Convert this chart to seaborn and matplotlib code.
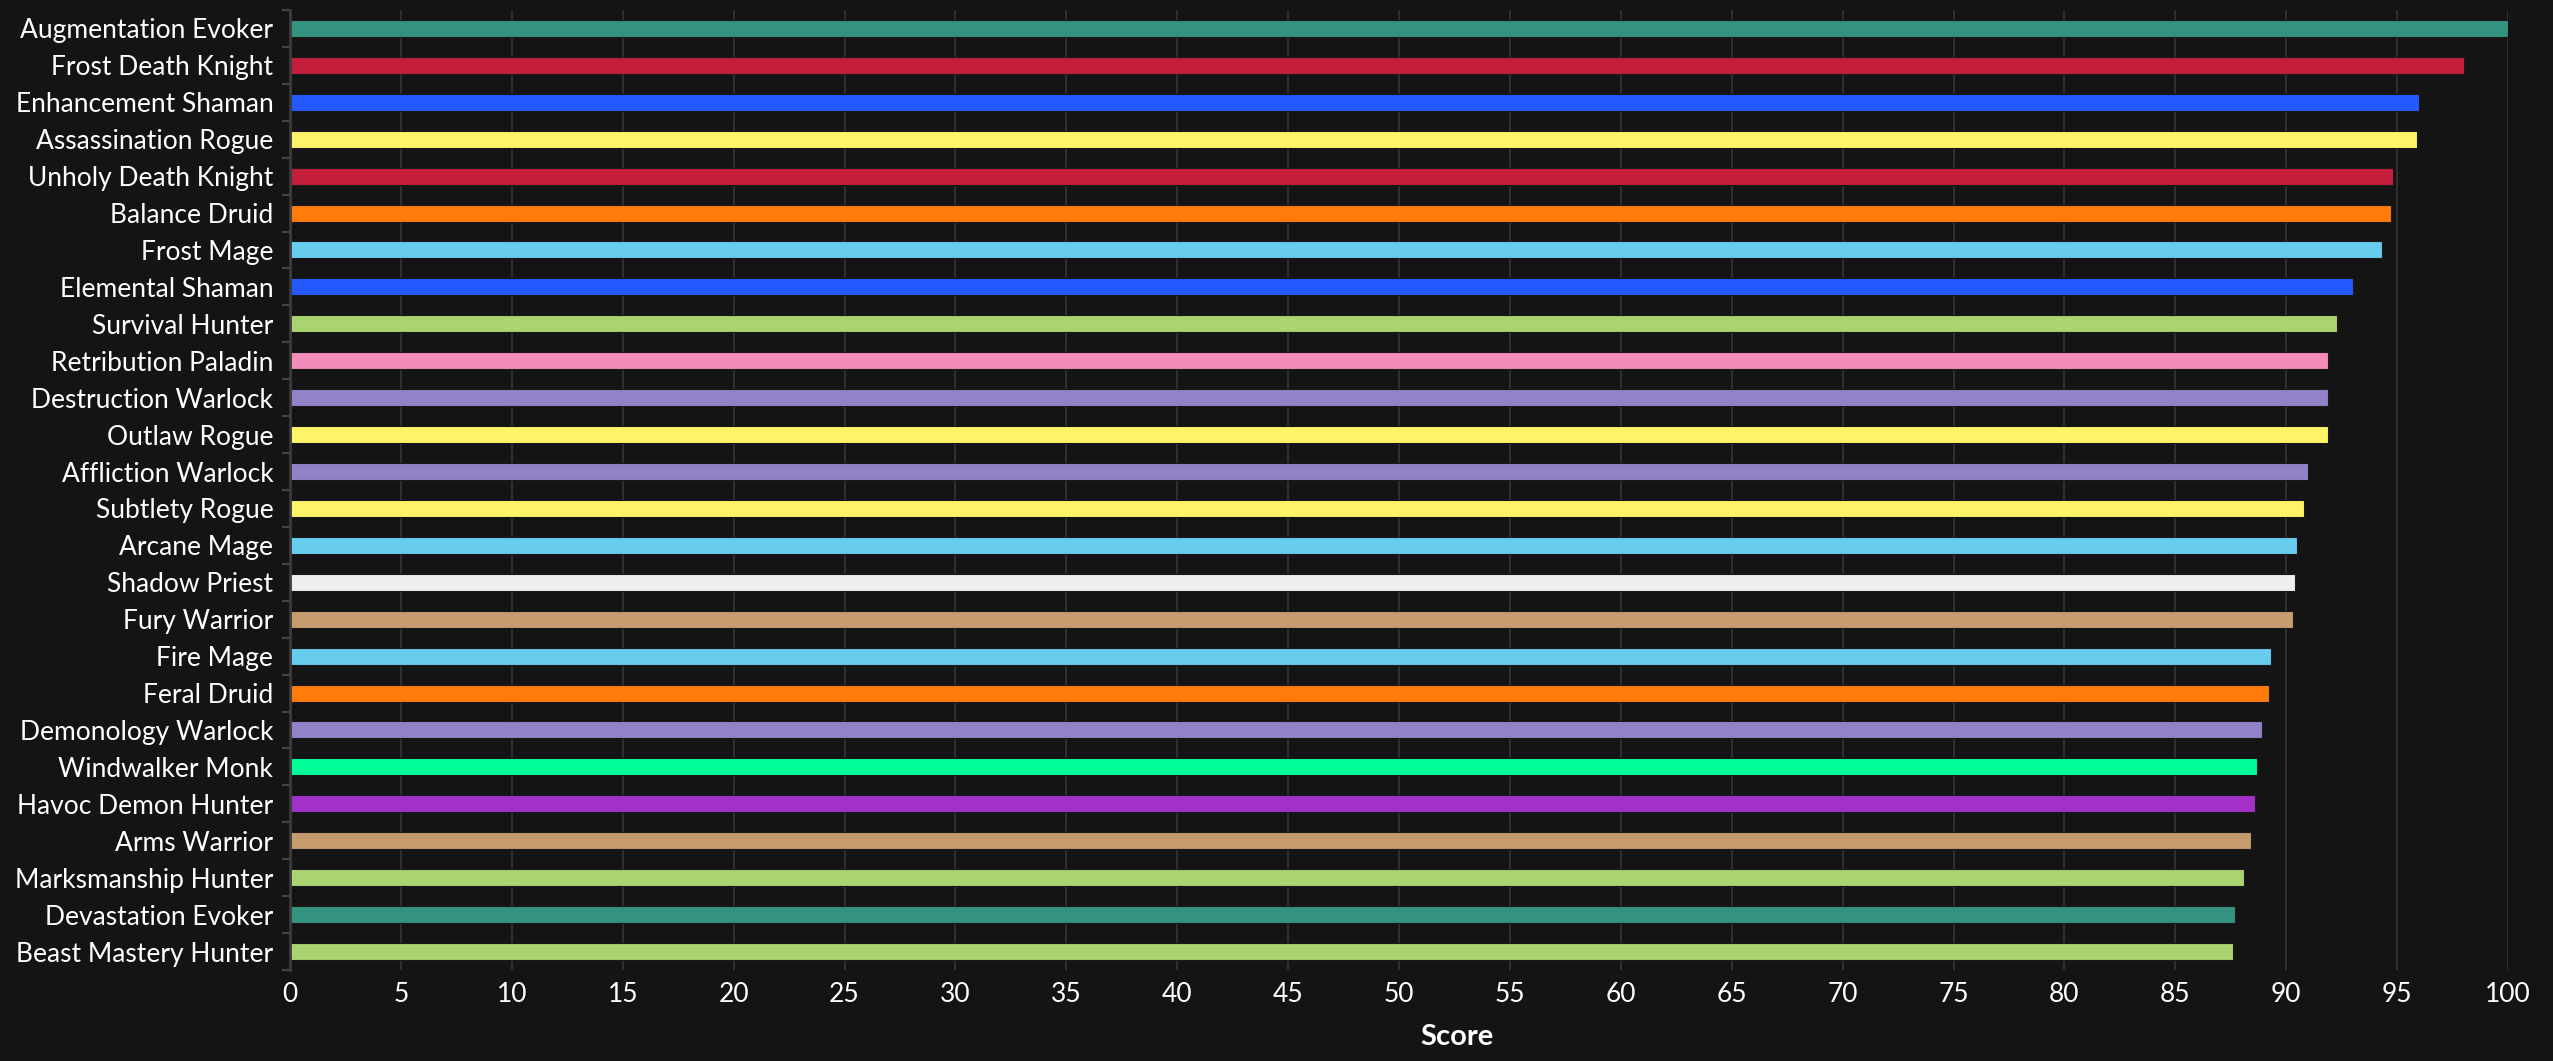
import matplotlib
matplotlib.use("Agg")
import matplotlib.pyplot as plt
import matplotlib.ticker as mticker
import seaborn as sns
import numpy as np
import pandas as pd

# Chart values
specs = [
    "Augmentation Evoker", "Frost Death Knight", "Enhancement Shaman", "Assassination Rogue",
    "Unholy Death Knight", "Balance Druid", "Frost Mage", "Elemental Shaman",
    "Survival Hunter", "Retribution Paladin", "Destruction Warlock", "Outlaw Rogue",
    "Affliction Warlock", "Subtlety Rogue", "Arcane Mage", "Shadow Priest",
    "Fury Warrior", "Fire Mage", "Feral Druid", "Demonology Warlock",
    "Windwalker Monk", "Havoc Demon Hunter", "Arms Warrior", "Marksmanship Hunter",
    "Devastation Evoker", "Beast Mastery Hunter",
]
scores = [
    100.0, 98.0, 96.0, 95.9,
    94.8, 94.7, 94.3, 93.0,
    92.3, 91.9, 91.9, 91.9,
    91.0, 90.8, 90.5, 90.4,
    90.3, 89.3, 89.2, 88.9,
    88.7, 88.6, 88.4, 88.1,
    87.7, 87.6,
]
classes = [
    "Evoker", "Death Knight", "Shaman", "Rogue",
    "Death Knight", "Druid", "Mage", "Shaman",
    "Hunter", "Paladin", "Warlock", "Rogue",
    "Warlock", "Rogue", "Mage", "Priest",
    "Warrior", "Mage", "Druid", "Warlock",
    "Monk", "Demon Hunter", "Warrior", "Hunter",
    "Evoker", "Hunter",
]
class_colors = {
    "Evoker": "#33937F",
    "Death Knight": "#C41E3A",
    "Shaman": "#2459FF",
    "Rogue": "#FFF468",
    "Druid": "#FF7C0A",
    "Mage": "#68CCEF",
    "Hunter": "#AAD372",
    "Paladin": "#F48CBA",
    "Warlock": "#9482C9",
    "Priest": "#EEEEEE",
    "Warrior": "#C69B6D",
    "Monk": "#00FF98",
    "Demon Hunter": "#A330C9",
}
x_ticks = list(range(0, 101, 5))

df = pd.DataFrame({"spec": specs, "score": scores, "cls": classes})

bg = "#141414"
sns.set_theme(style="dark")
plt.rcParams["font.family"] = ["Lato", "DejaVu Sans"]

fig = plt.figure(figsize=(25.53, 10.61), dpi=100, facecolor=bg)
ax = fig.add_axes([0.1136, 0.0858, 0.8688, 0.9048])
ax.set_facecolor(bg)

sns.barplot(data=df, x="score", y="spec", hue="cls", palette=class_colors,
            orient="h", width=0.46, dodge=False, legend=False, ax=ax,
            saturation=1, edgecolor="#1a1a1a", linewidth=0.8)

ax.set_xlim(0, 100)
ax.set_ylim(25.5, -0.5)
ax.set_xticks(x_ticks)
ax.set_xticklabels([str(t) for t in x_ticks])

# grid + spines
ax.grid(axis="x", color="#303030", linewidth=1.4)
ax.grid(axis="y", visible=False)
ax.set_axisbelow(True)
for side in ["top", "right", "bottom"]:
    ax.spines[side].set_visible(False)
ax.spines["left"].set_color("#3c3c3c")
ax.spines["left"].set_linewidth(2)

# category boundary ticks on the y axis
ax.yaxis.set_minor_locator(mticker.FixedLocator(np.arange(-0.5, len(specs), 1)))
ax.tick_params(axis="y", which="minor", length=6, width=1.5, color="#444444", left=True)
ax.tick_params(axis="y", which="major", length=0, pad=12, labelsize=19, labelcolor="white")
ax.tick_params(axis="x", which="major", length=0, pad=9, labelsize=19, labelcolor="white")

ax.set_ylabel("")
ax.set_xlabel("Score", fontsize=21, fontweight="bold", color="white", va="center")
ax.xaxis.set_label_coords(0.526, -0.07)

plt.savefig("out.png", dpi=100, facecolor=bg)
